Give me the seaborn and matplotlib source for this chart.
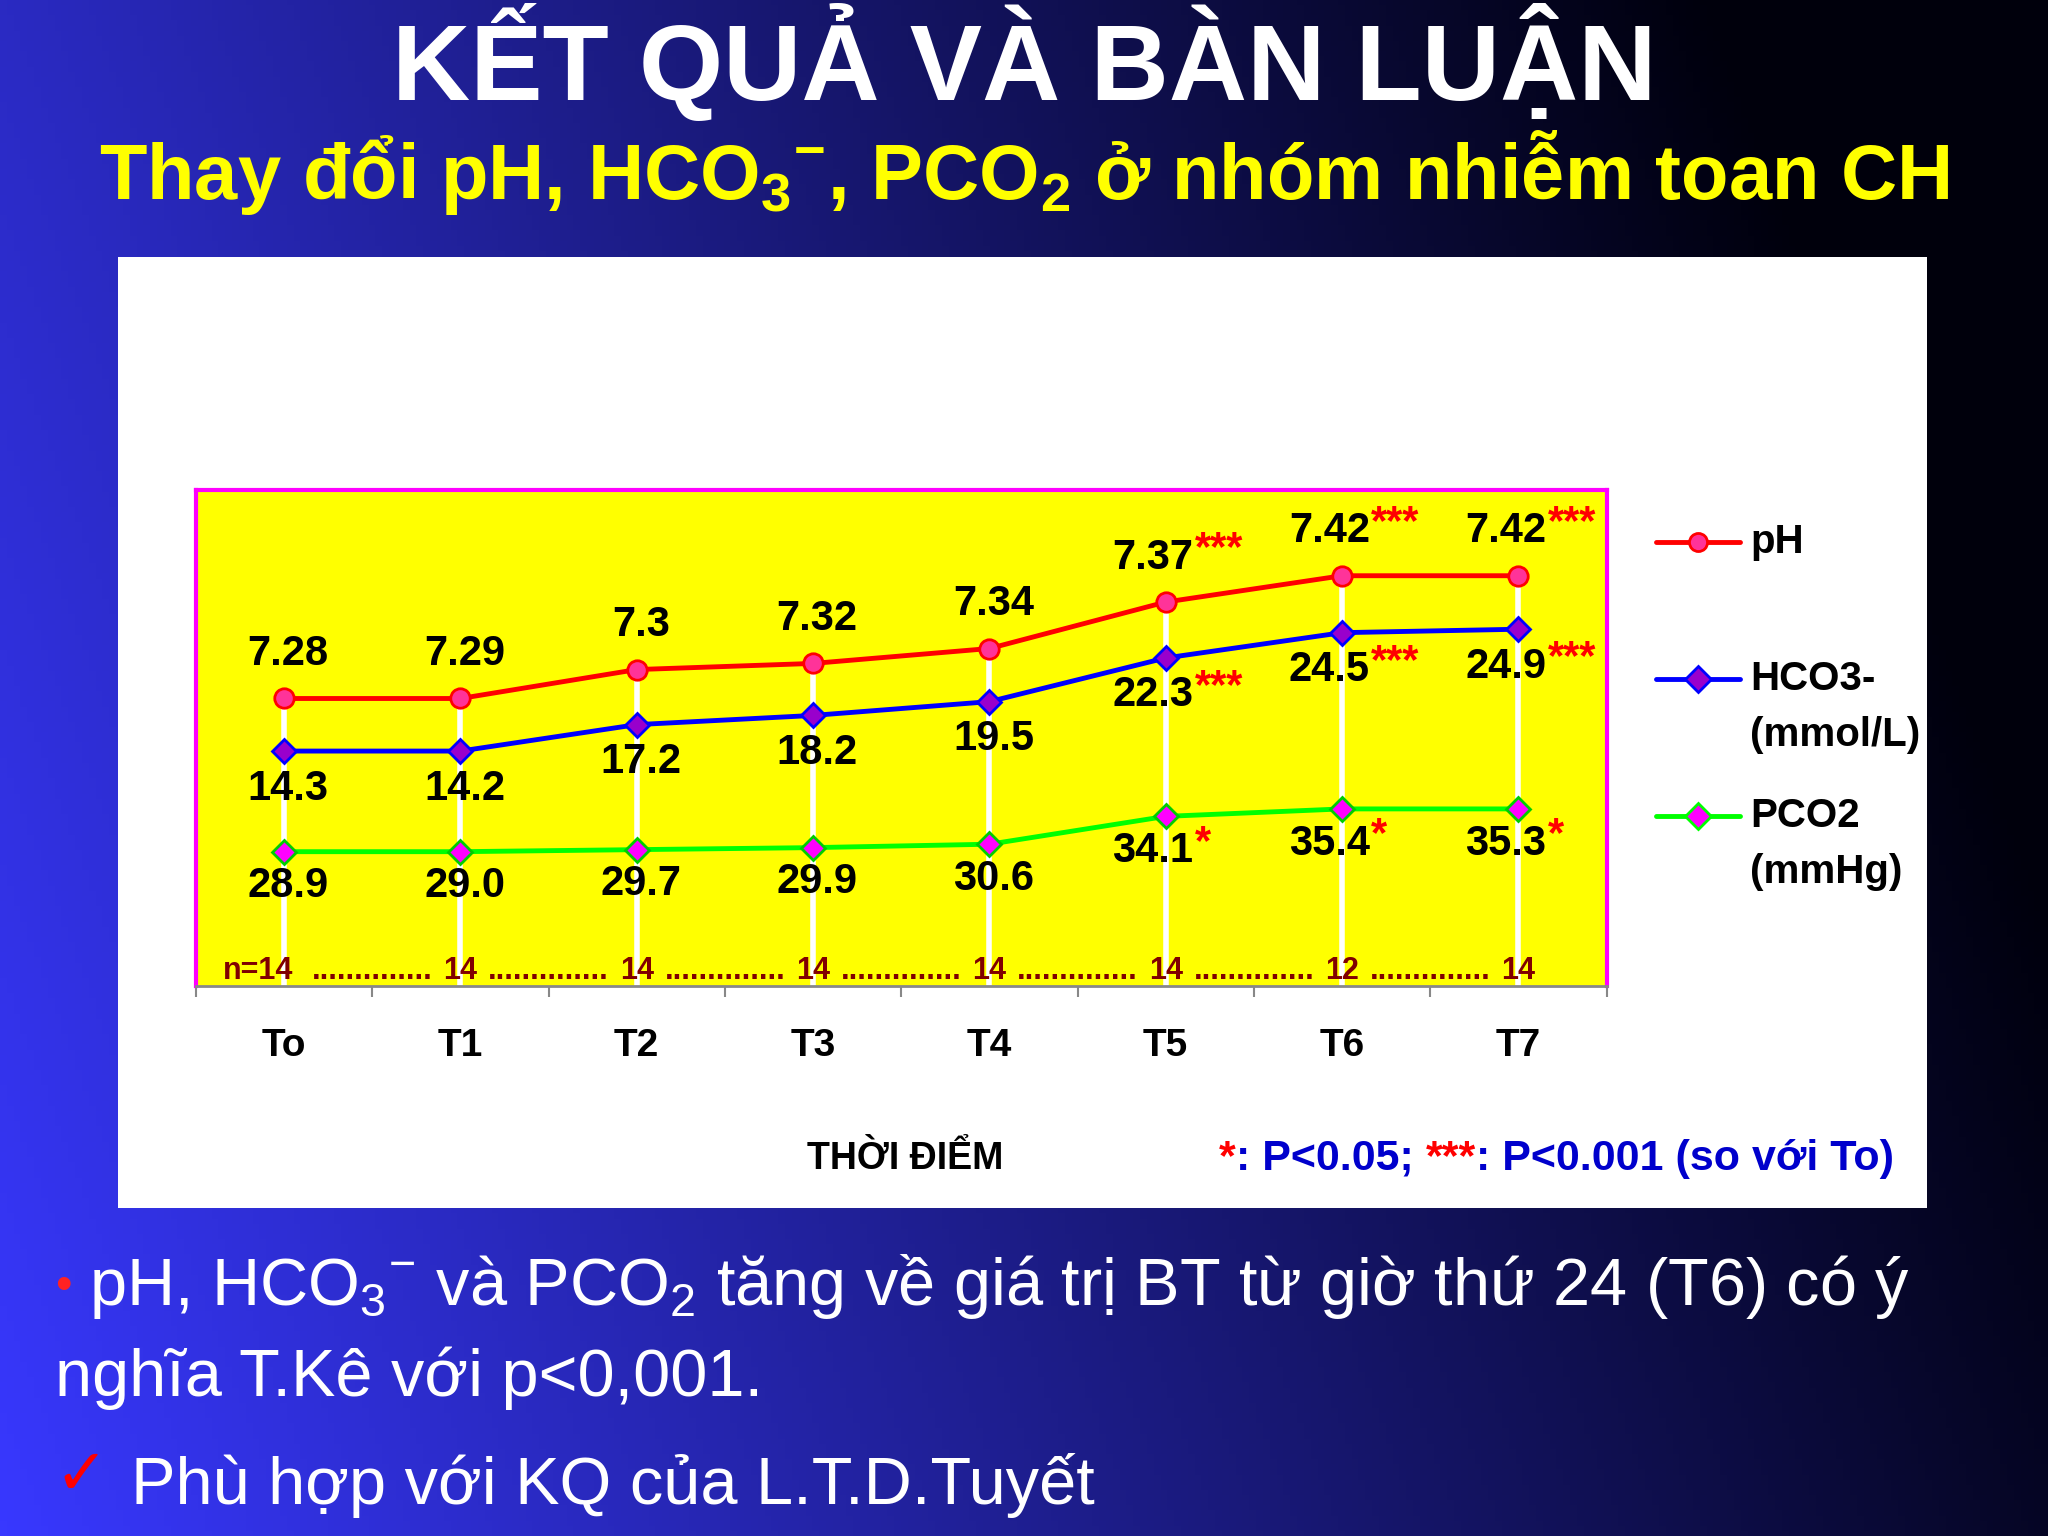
import numpy as np
import matplotlib
matplotlib.use("Agg")
import matplotlib.pyplot as plt
import seaborn as sns
from matplotlib.lines import Line2D
from matplotlib.patches import Rectangle
from matplotlib.offsetbox import TextArea, HPacker, AnnotationBbox

sns.set_theme(style="white")
plt.rcParams['font.family'] = ['Liberation Sans Narrow', 'Liberation Sans', 'DejaVu Sans']
plt.rcParams['mathtext.fontset'] = 'custom'
plt.rcParams['mathtext.rm'] = 'Liberation Sans'
plt.rcParams['mathtext.bf'] = 'Liberation Sans:bold'

categories = ["To", "T1", "T2", "T3", "T4", "T5", "T6", "T7"]
ph = [7.28, 7.28, 7.313, 7.32, 7.337, 7.39, 7.42, 7.42]
ph_labels = ["7.28", "7.29", "7.3", "7.32", "7.34", "7.37", "7.42", "7.42"]
hco3 = [14.3, 14.3, 16.6, 17.4, 18.6, 22.4, 24.6, 24.9]
hco3_labels = ["14.3", "14.2", "17.2", "18.2", "19.5", "22.3", "24.5", "24.9"]
pco2 = [28.9, 28.9, 29.2, 29.5, 30.0, 34.1, 35.2, 35.2]
pco2_labels = ["28.9", "29.0", "29.7", "29.9", "30.6", "34.1", "35.4", "35.3"]
ph_sig = ["", "", "", "", "", "***", "***", "***"]
hco3_sig = ["", "", "", "", "", "***", "***", "***"]
pco2_sig = ["", "", "", "", "", "*", "*", "*"]
n_values = [14, 14, 14, 14, 14, 14, 12, 14]

W, H = 1568, 1176
fig = plt.figure(figsize=(20.48, 15.36), dpi=100)

bg = fig.add_axes([0, 0, 1, 1], zorder=-10)
xx, yy = np.meshgrid(np.linspace(0, 1, 300), np.linspace(0, 1, 300))
t = np.clip(xx * 0.9 + (1 - yy) * 0.25, 0, 1)
img = np.zeros((300, 300, 3))
c0 = np.array([0.22, 0.22, 1.0]); c1 = np.array([0.0, 0.0, 0.05])
for k in range(3):
    img[..., k] = c0[k] * (1 - t) + c1[k] * t
bg.imshow(img, aspect='auto', extent=[0, 1, 0, 1])
bg.axis('off')

def fx(px): return px / W
def fy(py): return 1 - py / H

fig.patches.append(Rectangle((fx(90), fy(925)), fx(1475) - fx(90), fy(197) - fy(925),
                             transform=fig.transFigure, facecolor='white', edgecolor='none', zorder=-5))

fig.text(0.5, fy(48), "KẾT QUẢ VÀ BÀN LUẬN", color='white', fontsize=78, fontweight='bold',
         ha='center', va='center', family=['Liberation Sans', 'DejaVu Sans'])
fig.text(0.5, fy(132), r"Thay đổi pH, HCO$_\mathbf{3}$$^\mathbf{-}$, PCO$_\mathbf{2}$ ở nhóm nhiễm toan CH",
         color='#ffff00', fontsize=56, fontweight='bold', ha='center', va='center',
         family=['Liberation Sans', 'DejaVu Sans'])

x = np.arange(len(categories))
rect = [fx(150), fy(755), fx(1230) - fx(150), fy(375) - fy(755)]
ax = fig.add_axes(rect)
ax.set_facecolor('#ffff00')
ax2 = ax.twinx(); ax3 = ax.twinx()
for a in (ax2, ax3):
    a.set_yticks([]); a.patch.set_visible(False)
    for s in a.spines.values(): s.set_visible(False)
ax.set_xlim(-0.5, 7.5)
ax.set_ylim(6.952, 7.518)
ax2.set_ylim(-6.15, 37.03)
ax3.set_ylim(9.1, 82.2)
ax.set_yticks([])
for s in ['top', 'left', 'right']:
    ax.spines[s].set_color('#ff00ff'); ax.spines[s].set_linewidth(3)
ax.spines['bottom'].set_color('#888888'); ax.spines['bottom'].set_linewidth(2)

ax.vlines(x, 6.952, ph, color='white', lw=4, zorder=1)
sns.lineplot(x=x, y=ph, ax=ax, color='#ff0000', lw=3.5, marker='o', markersize=14,
             markerfacecolor='#ff3399', markeredgecolor='#ff0000', markeredgewidth=2, zorder=5)
sns.lineplot(x=x, y=hco3, ax=ax2, color='#0000ff', lw=3.5, marker='D', markersize=12,
             markerfacecolor='#9900cc', markeredgecolor='#0000ff', markeredgewidth=2, zorder=5)
sns.lineplot(x=x, y=pco2, ax=ax3, color='#00ff00', lw=3.5, marker='D', markersize=12,
             markerfacecolor='#ff00ff', markeredgecolor='#00cc00', markeredgewidth=2, zorder=5)

lfs = 30
def label(a, xs, ys, labs, sigs, dy):
    for xi, yi, lb, sg in zip(xs, ys, labs, sigs):
        if sg:
            a.annotate(lb, (xi, yi), xytext=(20, dy), textcoords='offset points', ha='right',
                       va='center', fontsize=lfs, fontweight='bold', color='black')
            a.annotate(sg, (xi, yi), xytext=(21, dy + 6), textcoords='offset points', ha='left',
                       va='center', fontsize=lfs, fontweight='bold', color='#ff0000')
        else:
            a.annotate(lb, (xi, yi), xytext=(3, dy), textcoords='offset points', ha='center',
                       va='center', fontsize=lfs, fontweight='bold', color='black')
label(ax, x, ph, ph_labels, ph_sig, 32)
label(ax2, x, hco3, hco3_labels, hco3_sig, -27)
label(ax3, x, pco2, pco2_labels, pco2_sig, -25)

tr = ax.get_xaxis_transform()
for i, n in enumerate(n_values):
    s = f"n={n}" if i == 0 else str(n)
    ax.text(i - (0.15 if i == 0 else 0), 0.03, s, transform=tr, ha='center', va='center',
            fontsize=22, fontweight='bold', color='#800000', zorder=6)
    if i < len(n_values) - 1:
        ax.text(i + 0.5, 0.03, "." * 14, transform=tr, ha='center', va='center',
                fontsize=22, fontweight='bold', color='#800000', zorder=6)

ax.set_xticks(x)
ax.set_xticklabels(categories, fontsize=28, fontweight='bold', color='black')
ax.tick_params(axis='x', which='major', length=0, pad=30)
ax.set_xticks(np.arange(-0.5, 8, 1), minor=True)
ax.tick_params(axis='x', which='minor', length=8, width=1.5, color='#888888', direction='out', bottom=True)

fig.text(fx(693), fy(887), "THỜI ĐIỂM", fontsize=27, fontweight='bold', color='black', ha='center', va='center')

leg = [("pH", None, '#ff0000', 'o', '#ff3399', 415),
       ("HCO3-", "(mmol/L)", '#0000ff', 'D', '#9900cc', 520),
       ("PCO2", "(mmHg)", '#00ff00', 'D', '#ff00ff', 625)]
for t1, t2, c, m, mf, py in leg:
    fig.add_artist(Line2D([fx(1268), fx(1332)], [fy(py), fy(py)], color=c, lw=3.5))
    fig.add_artist(Line2D([fx(1300)], [fy(py)], color=c, marker=m, markersize=13,
                          markerfacecolor=mf, markeredgecolor=c, markeredgewidth=2))
    fig.text(fx(1340), fy(py), t1, fontsize=29, fontweight='bold', color='black', va='center')
    if t2:
        fig.text(fx(1340), fy(py + 43), t2, fontsize=29, fontweight='bold', color='black', va='center')

parts = [("*", '#ff0000'), (": P<0.05; ", '#0000cc'), ("***", '#ff0000'), (": P<0.001 (so với To)", '#0000cc')]
boxes = [TextArea(s, textprops=dict(color=c, fontsize=31, fontweight='bold')) for s, c in parts]
ab = AnnotationBbox(HPacker(children=boxes, pad=0, sep=0), (fx(1450), fy(887)), xycoords='figure fraction',
                    box_alignment=(1, 0.5), frameon=False)
fig.add_artist(ab)

bf = ['Liberation Sans', 'DejaVu Sans']
fig.text(fx(42), fy(985), "•", color='#ff2222', fontsize=34, va='center', family=bf)
fig.text(fx(68), fy(985), r"pH, HCO$_3$$^{-}$ và PCO$_2$ tăng về giá trị BT từ giờ thứ 24 (T6) có ý",
         color='white', fontsize=48, va='center', family=bf)
fig.text(fx(42), fy(1055), "nghĩa T.Kê với p<0,001.", color='white', fontsize=48, va='center', family=bf)
fig.text(fx(42), fy(1130), "✓", color='#ff0000', fontsize=46, va='center', family=['DejaVu Sans'])
fig.text(fx(100), fy(1137), "Phù hợp với KQ của L.T.D.Tuyết", color='white', fontsize=48, va='center', family=bf)

fig.savefig("out.png", dpi=100)
